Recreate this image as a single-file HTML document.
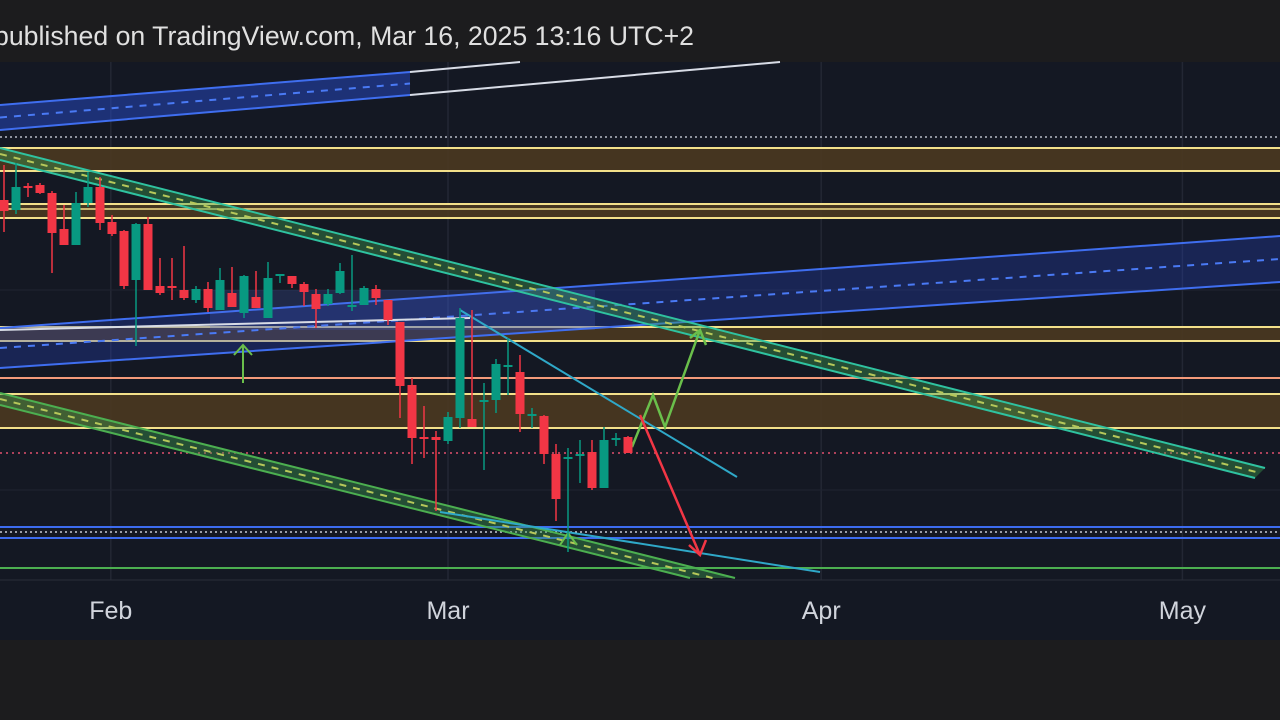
<!DOCTYPE html>
<html><head><meta charset="utf-8"><style>
html,body{margin:0;padding:0;background:#1c1c1e;width:1280px;height:720px;overflow:hidden;font-family:"Liberation Sans",sans-serif}
</style></head><body>
<svg id="chart" width="1280" height="720" xmlns="http://www.w3.org/2000/svg">
<rect x="0" y="0" width="1280" height="62" fill="#1c1c1e"/>
<text x="-6" y="45" font-size="27" fill="#e0e0e0" font-family="Liberation Sans, sans-serif" textLength="700" lengthAdjust="spacingAndGlyphs">published on TradingView.com, Mar 16, 2025 13:16 UTC+2</text>
<rect x="0" y="62" width="1280" height="578" fill="#141823"/>
<rect x="0" y="640" width="1280" height="80" fill="#1c1c1e"/>
<g id="grid"></g>
<g id="draw"></g>
<g id="candles"></g>
<g id="xaxis"></g>
</svg>
<script>
const NS='http://www.w3.org/2000/svg';
// price = 100000 - 50*y
const opens =[90000,89500,90700,90750,90350,88550,87750,89850,90650,88900,88450,86000,88800,85700,85700,85500,85000,85550,84500,85350,84350,85150,84100,86200,86200,85800,85300,84800,85350,84750,84750,85550,85000,83900,80750,78150,78150,77950,79100,79050,80000,80000,81750,81400,79300,79200,77300,77150,77200,77400,75600,78000,78150];
const closes=[89450,90650,90650,90350,88350,87750,89850,90650,88850,88300,85700,88800,85500,85350,85650,85100,85550,84600,86000,84650,86200,84600,86100,86300,85800,85400,84550,85300,86450,84750,85600,85100,84000,80700,78100,78100,78000,79150,84100,78650,80000,81800,81750,79300,79300,77300,75050,77150,77300,75600,78000,78100,77350];
const highs =[91750,91850,90850,90850,90450,89750,90400,91400,91150,89250,88500,88850,89150,87100,87100,87700,85700,85900,86600,86650,86250,86450,86900,86300,86200,85900,85550,85550,86850,87250,85700,85750,85000,83900,81100,79700,78450,79400,84600,84500,80850,82050,83100,82250,79600,79250,77800,77600,78000,78000,78650,78350,78200];
const lows  =[88400,89300,90150,90300,86350,87750,87750,89650,88500,88200,85550,82700,85500,85250,85000,85000,84850,84400,84500,84700,84100,84750,85350,85850,85600,84700,83600,84700,85300,84450,84750,84750,83750,79100,76800,77100,74450,77800,78600,78650,76500,79350,80250,78400,78600,76800,73950,72400,75850,75500,75600,77700,77350];
const xLabels=['Feb','Mar','Apr','May'];
const xLabelIdx=[8.9,37,68.1,98.2];
const x0=4,step=12.0;
const xS=i=>x0+i*step;
const yS=p=>(100000-p)/50;
function el(t,a,p){const e=document.createElementNS(NS,t);for(const k in a)e.setAttribute(k,a[k]);(p||document.getElementById('draw')).appendChild(e);return e;}
const grid=document.getElementById('grid');
xLabelIdx.forEach(v=>{el('line',{x1:xS(v),x2:xS(v),y1:62,y2:580,stroke:'#232734','stroke-width':1.5},grid);});
[290,490].forEach(y=>el('line',{x1:0,x2:1280,y1:y,y2:y,stroke:'#1f2330','stroke-width':1},grid));
function band(y1,y2,name){const r=el('rect',{x:0,y:y1,width:1280,height:y2-y1,fill:'#4a3820','fill-opacity':0.9});
el('line',{x1:0,x2:1280,y1:y1,y2:y1,stroke:'#f3e08a','stroke-width':2});el('line',{x1:0,x2:1280,y1:y2,y2:y2,stroke:'#f3e08a','stroke-width':2});}
band(148,171,'resistance-zone-top');band(204,218,'resistance-zone-2');el('line',{x1:0,x2:1280,y1:209,y2:209,stroke:'#f3e08a','stroke-width':1.5});
band(327,341,'resistance-zone-3');band(394,428,'support-zone');
el('line',{x1:0,x2:1280,y1:137,y2:137,stroke:'#b8bcc8','stroke-width':1.5,'stroke-dasharray':'2 3'});
el('line',{x1:0,x2:1280,y1:378,y2:378,stroke:'#f49a7a','stroke-width':2});
el('line',{x1:0,x2:1280,y1:453,y2:453,stroke:'#e2506e','stroke-width':1.5,'stroke-dasharray':'2 4'});
el('line',{x1:0,x2:1280,y1:527,y2:527,stroke:'#3d6cf0','stroke-width':2});
el('line',{x1:0,x2:1280,y1:538,y2:538,stroke:'#3d6cf0','stroke-width':2});
el('line',{x1:0,x2:1280,y1:532,y2:532,stroke:'#c8ccd8','stroke-width':1.5,'stroke-dasharray':'2 3'});
el('line',{x1:0,x2:1280,y1:568,y2:568,stroke:'#4caf50','stroke-width':2});
function channel(u1,u2,l1,l2,fill,stroke,mid){el('polygon',{points:`${u1} ${u2} ${l2} ${l1}`,fill:fill});
const a=u1.split(' '),b=u2.split(' '),c=l1.split(' '),e=l2.split(' ');
el('line',{x1:a[0],y1:a[1],x2:b[0],y2:b[1],stroke:stroke,'stroke-width':2});
el('line',{x1:c[0],y1:c[1],x2:e[0],y2:e[1],stroke:stroke,'stroke-width':2});
el('line',{x1:(+a[0]+ +c[0])/2,y1:(+a[1]+ +c[1])/2,x2:(+b[0]+ +e[0])/2,y2:(+b[1]+ +e[1])/2,stroke:mid,'stroke-width':2,'stroke-dasharray':'7 7'});}
channel('0 105','410 72','0 130','410 95','rgba(40,80,220,0.45)','#3f6ef0','#4a7af5');
el('line',{x1:410,y1:95,x2:780,y2:62,stroke:'#d8dce6','stroke-width':2});
el('line',{x1:410,y1:72,x2:520,y2:62,stroke:'#d8dce6','stroke-width':2});
channel('0 328','1280 236','0 368','1280 282','rgba(40,70,200,0.3)','#3f6ef0','#4a7af5');
el('rect',{x:210,y:290,width:385,height:40,fill:'rgba(80,110,220,0.2)'});
el('line',{x1:0,y1:330,x2:470,y2:318,stroke:'#d8dce6','stroke-width':2});
channel('0 148','1265 468','0 160','1255 478','rgba(60,160,80,0.4)','#2fc2a0','#b6c85a');
channel('0 393','735 578','0 405','690 578','rgba(60,160,80,0.4)','#4caf50','#b6c85a');
el('line',{x1:460,y1:310,x2:737,y2:477,stroke:'#2fa8c8','stroke-width':2});
el('line',{x1:440,y1:512,x2:820,y2:572,stroke:'#2fa8c8','stroke-width':2});
el('polyline',{points:'632,447 653,395 665,427 700,330',fill:'none',stroke:'#6abf4b','stroke-width':2.5});
el('polyline',{points:'690,338 700,330 706,345',fill:'none',stroke:'#6abf4b','stroke-width':2.5});
el('line',{x1:640,y1:415,x2:700,y2:555,stroke:'#f23645','stroke-width':2.5});
el('polyline',{points:'689,545 700,555 706,540',fill:'none',stroke:'#f23645','stroke-width':2.5});
el('line',{x1:243,y1:383,x2:243,y2:345,stroke:'#6abf4b','stroke-width':2});
el('polyline',{points:'234,355 243,345 252,355',fill:'none',stroke:'#6abf4b','stroke-width':2});
el('polyline',{points:'560,545 568,533 577,545',fill:'none',stroke:'#6abf4b','stroke-width':2});
const cg=document.getElementById('candles');
opens.forEach((o,i)=>{const c=closes[i],up=c>=o,col=up?'#089981':'#f23645',x=xS(i);
const g=document.createElementNS(NS,'g');cg.appendChild(g);


el('line',{x1:x,x2:x,y1:yS(highs[i]),y2:yS(lows[i]),stroke:col,'stroke-width':1.5},g);
const t=Math.min(yS(o),yS(c)),h=Math.max(2,Math.abs(yS(o)-yS(c)));
el('rect',{x:x-4.5,y:t,width:9,height:h,fill:col},g);});
const xa=document.getElementById('xaxis');
el('line',{x1:0,x2:1280,y1:580,y2:580,stroke:'#2a2e39','stroke-width':1},xa);
xLabels.forEach((l,i)=>{const t=el('text',{x:xS(xLabelIdx[i]),y:619,'text-anchor':'middle','font-size':25,fill:'#d1d4dc','font-family':'Liberation Sans, sans-serif'},xa);t.textContent=l;

});
</script>
</body></html>
